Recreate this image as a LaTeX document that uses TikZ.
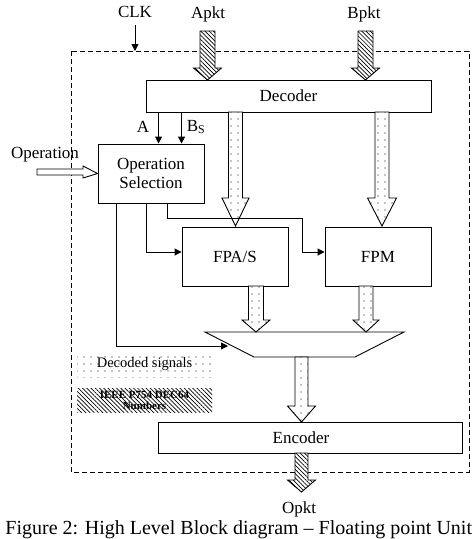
\documentclass[tikz,border=0pt]{standalone}
\usepackage{fontspec}
\setmainfont{Liberation Serif}
\usetikzlibrary{arrows.meta,patterns,patterns.meta}

% vertical block arrow: x, ytop, yheadstart, ytip, half shaft, half head, style
\newcommand\fatarrow[7]{%
  \draw[#7] (#1-#5,#2) -- (#1-#5,#3) -- (#1-#6,#3) -- (#1,#4) -- (#1+#6,#3)
    -- (#1+#5,#3) -- (#1+#5,#2) -- cycle;}

\begin{document}
\begin{tikzpicture}[x=1pt,y=-1pt,line width=0.9pt,
  font=\fontsize{17}{19}\selectfont,
  box/.style={draw,fill=white,inner sep=0pt},
  sig/.style={-{Triangle[length=7pt,width=7pt]}},
  dotfill/.style={pattern={Dots[distance=7pt,radius=0.7pt]}},
  hatchfill/.style={pattern={Lines[angle=-45,distance=3pt,line width=0.7pt]}},
  dotarrow/.style={draw,line width=0.9pt,preaction={fill=white},dotfill},
  hatcharrow/.style={draw,line width=0.9pt,preaction={fill=white},hatchfill},
  frame/.style={draw,dash pattern=on 5pt off 3pt,line width=0.9pt}]

\useasboundingbox (0,0) rectangle (474,539);

% outer dashed frame
\draw[frame] (71,51) rectangle (469,472);

% blocks
\node[box,minimum width=285pt,minimum height=32pt] (dec) at (288.5,96) {Decoder};
\node[box,minimum width=106pt,minimum height=59pt,align=center] (os) at (151,173.5) {Operation\\Selection};
\node[box,minimum width=106pt,minimum height=59pt] (fpa) at (235,256.5) {FPA/S};
\node[box,minimum width=106pt,minimum height=59pt] (fpm) at (378,256.5) {FPM};
\node[box,minimum width=304pt,minimum height=31pt] (enc) at (310,437.5) {};
\node (enclbl) at (301,438) {Encoder};

% multiplexer
\coordinate (mtl) at (205,332);
\coordinate (mtr) at (404,332);
\coordinate (mbr) at (355,357);
\coordinate (mbl) at (254,357);
\draw[fill=white] (mtl) -- (mtr) -- (mbr) -- (mbl) -- cycle;
\coordinate (mL) at (228,346);

% external labels
\node (clk) at (135,12) {CLK};
\coordinate (clkin) at (135,51);
\node (apkt) at (208,14) {Apkt};
\node (bpkt) at (364,14) {Bpkt};
\node (opkt) at (299,509) {Opkt};
\node (oper) at (45,155) {Operation};

% clock
\draw[sig,shorten <=4pt] (clk.south) -- (clkin);

% hatched packet arrows
\fatarrow{207.5}{31}{68}{80}{7.5}{14}{hatcharrow}
\fatarrow{365.5}{31}{68}{80}{7.5}{14}{hatcharrow}
\fatarrow{301.5}{453}{480}{492}{6.5}{14}{hatcharrow}

% dotted data arrows
\fatarrow{235.5}{112}{198}{226}{7}{13.5}{dotarrow}
\fatarrow{382}{112}{198}{226}{7}{14.5}{dotarrow}
\fatarrow{256}{286}{320}{332}{7.5}{14}{dotarrow}
\fatarrow{366}{286}{320}{332}{7}{13}{dotarrow}
\fatarrow{301.5}{357}{406}{422}{6.5}{14}{dotarrow}

% Operation hollow arrow
\draw[fill=white] (37,169) -- (83,169) -- (83,166) -- (os.west) -- (83,178) -- (83,175) -- (37,175) -- cycle;

% A and Bs
\draw[sig] ([xshift=13pt]dec.south west) -- ([xshift=13pt]dec.south west |- os.north);
\draw[sig] ([xshift=36pt]dec.south west) -- ([xshift=36pt]dec.south west |- os.north);
\node (alab) at (143,127) {A};
\node (blab) at (196,127) {B\textsubscript{S}};

% control lines
\draw[sig] ([xshift=-5pt]os.south) |- ([yshift=4.5pt]fpa.west);
\coordinate (bend) at (302,218);
\draw[sig] ([xshift=16pt]os.south) |- (bend) |- ([yshift=4.5pt]fpm.west);
\draw[sig] ([xshift=19pt]os.south west) |- (mL);

% legend
\node[dotfill,minimum width=135pt,minimum height=25pt,inner sep=0pt,
  font=\fontsize{14.5}{16}\selectfont] (dsig) at (144.5,364.5) {Decoded signals};
\node[hatchfill,minimum width=135pt,minimum height=24pt,inner sep=0pt,align=center,
  font=\bfseries\fontsize{11}{11}\selectfont] (ieee) at (144.5,400.5) {IEEE P754 DEC64\\Numbers};

% caption
\node[anchor=base west,inner sep=0pt,font=\fontsize{20}{22}\selectfont] (cap) at (5,534)
  {Figure 2: High Level Block diagram – Floating point Unit};
\end{tikzpicture}
\end{document}
